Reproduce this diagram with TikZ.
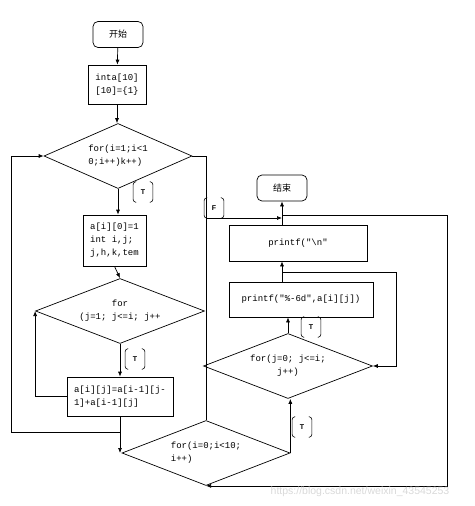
\documentclass[tikz,border=0pt]{standalone}
\usepackage{fontspec}
\setmainfont{Liberation Serif}
\setsansfont{Liberation Sans}
\setmonofont{Liberation Mono}
\newfontfamily\cjk{Noto Sans CJK SC}
\usetikzlibrary{shapes.geometric,arrows.meta}

\tikzset{
  base/.style={draw, line width=0.7pt, font=\ttfamily\fontsize{9}{13}\selectfont, align=left, inner sep=0pt},
  term/.style={base, rectangle, rounded corners=5pt, minimum width=50pt, minimum height=26pt, font=\cjk\fontsize{9}{11}\selectfont},
  proc/.style={base, rectangle},
  cond/.style={base, diamond, aspect=2.5},
  tag/.style={font=\sffamily\bfseries\fontsize{7}{8}\selectfont, minimum width=19pt, minimum height=20pt, inner sep=0pt},
  >={Latex[length=5pt,width=4pt]}
}

\begin{document}
\begin{tikzpicture}[x=1pt, y=-1pt, line width=0.7pt]
\useasboundingbox (0,0) rectangle (474,506);
% left column
\path (118,34.5) node[term] (start) {开始};
\path (117,84.5) node[proc, minimum width=58pt, minimum height=39pt] (init) {inta[10]\\{}[10]=\{1\}};
\path (118,156) node[cond, minimum width=148pt, minimum height=65pt] (loopi) {for(i=1;i<1\\0;i++)k++)};
\path (114.5,240.5) node[proc, minimum width=63pt, minimum height=51pt] (body) {a[i][0]=1\\int i,j;\\j,h,k,tem};
\path (120,311) node[cond, minimum width=169pt, minimum height=65pt, align=center] (loopj) {for\\(j=1; j<=i; j++};
\path (120,396.5) node[proc, minimum width=106pt, minimum height=39pt] (calc) {a[i][j]=a[i-1][j-\\1]+a[i-1][j]};
% right column
\path (206,453) node[cond, minimum width=168pt, minimum height=65pt] (outi) {for(i=0;i<10;\\i++)};
\path (288,366) node[cond, minimum width=169pt, minimum height=65pt, align=center] (outj) {for(j=0; j<=i;\\j++)};
\path (301,299.5) node[proc, minimum width=144pt, minimum height=35pt] (prn) {printf("\%-6d",a[i][j])};
\path (298,243) node[proc, minimum width=138pt, minimum height=36pt] (nl) {printf("\textbackslash n"};
\path (282,188) node[term] (stop) {结束};
% bends
\coordinate (lft) at (11,432);
\coordinate (rj) at (396,272);
\coordinate (ro) at (447,215);
\coordinate (fy) at (0,218);
% flow
\draw[->] (start) -- (init);
\draw[->] (init.south) -- (init.south |- loopi.north);
\draw[->] (loopi.south) -- (loopi.south |- body.north);
\draw[->] (body.south) -- (loopj.north);
\draw[->] (loopj.south) -- (calc.north);
\draw[->] (calc.west) -| (loopj.west);
\draw[->] (calc.south) -- (calc.south |- outi.west);
\draw[->] (calc.south |- lft) -- (lft) |- (loopi.west);
\draw (loopi.east) -| (outi.north);
\draw[->] (outi.north |- fy) -- (stop.south |- fy);
\draw[->] (outi.east) -- (outi.east |- outj.south);
\draw[->] (outj.north) -- (outj.north |- prn.south);
\draw[->] (prn.north -| stop.south) -- (nl.south -| stop.south);
\draw[->] (nl.north -| stop.south) -- (stop.south);
\draw[->] (stop.south |- rj) -- (rj) |- (outj.east);
\draw[->] (stop.south |- ro) -- (ro) |- (outi.south);
% T / F tags
\path (143,192) node[tag] (t1) {T};
\path (135,359) node[tag] (t2) {T};
\path (302,427) node[tag] (t3) {T};
\path (311,327) node[tag] (t4) {T};
\path (214,208) node[tag] (f1) {F};
\foreach \t in {t1,t2,t3,t4,f1} {
  \draw[line width=0.6pt, rounded corners=3pt] ([xshift=3pt]\t.north west) -- (\t.north west) -- (\t.south west) -- ([xshift=3pt]\t.south west);
  \draw[line width=0.6pt, rounded corners=3pt] ([xshift=-3pt]\t.north east) -- (\t.north east) -- (\t.south east) -- ([xshift=-3pt]\t.south east);
}
\path (360,492) node[font=\sffamily\fontsize{10.5}{12}\selectfont, text=gray!30] (mark) {https://blog.csdn.net/weixin\_43545253};
\end{tikzpicture}
\end{document}
